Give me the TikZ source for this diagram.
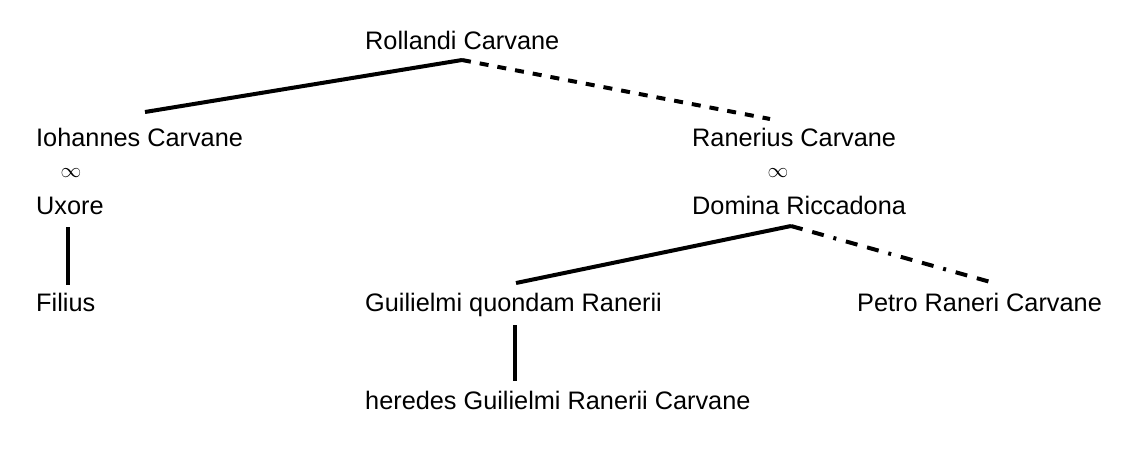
\documentclass[tikz,border=0pt]{standalone}
\usepackage{fontspec}
\setmainfont{Liberation Sans}
\begin{document}
\begin{tikzpicture}[x=1pt,y=-1pt,
  person/.style={anchor=base west,inner sep=0pt,font=\fontsize{25.3}{30}\selectfont},
  marr/.style={anchor=center,inner sep=0pt,font=\fontsize{21}{24}\selectfont},
  link/.style={line width=4pt},
  dlink/.style={line width=4pt,dash pattern=on 9pt off 9pt},
  ddlink/.style={line width=4pt,dash pattern=on 12pt off 10pt on 12pt off 10pt on 3pt off 10pt}]
\useasboundingbox (0,0) rectangle (1132,451);
\node[person] (roll) at (365,49) {Rollandi Carvane};
\node[person] (ioh) at (36,146) {Iohannes Carvane};
\node[marr] (m1) at (71,173) {$\infty$};
\node[person] (ux) at (36,214) {Uxore};
\node[person] (fil) at (36,311) {Filius};
\node[person] (ran) at (692,146) {Ranerius Carvane};
\node[marr] (m2) at (778,173) {$\infty$};
\node[person] (dom) at (692,214) {Domina Riccadona};
\node[person] (gui) at (365,311) {Guilielmi quondam Ranerii};
\node[person] (pet) at (857,311) {Petro Raneri Carvane};
\node[person] (her) at (365,409) {heredes Guilielmi Ranerii Carvane};
\coordinate (j1) at (462,60);
\coordinate (e1) at (145,112);
\coordinate (e2) at (770,119);
\coordinate (j2) at (791,226);
\coordinate (e3) at (516,283);
\coordinate (e4) at (994,283);
\coordinate (u1) at (68,227);
\coordinate (f1) at (68,285);
\coordinate (g1) at (515,325);
\coordinate (h1) at (515,381);
\draw[link] (j1) -- (e1);
\draw[dlink] (j1) -- (e2);
\draw[link] (j2) -- (e3);
\draw[ddlink] (j2) -- (e4);
\draw[link] (u1) -- (f1);
\draw[link] (g1) -- (h1);
\end{tikzpicture}
\end{document}
